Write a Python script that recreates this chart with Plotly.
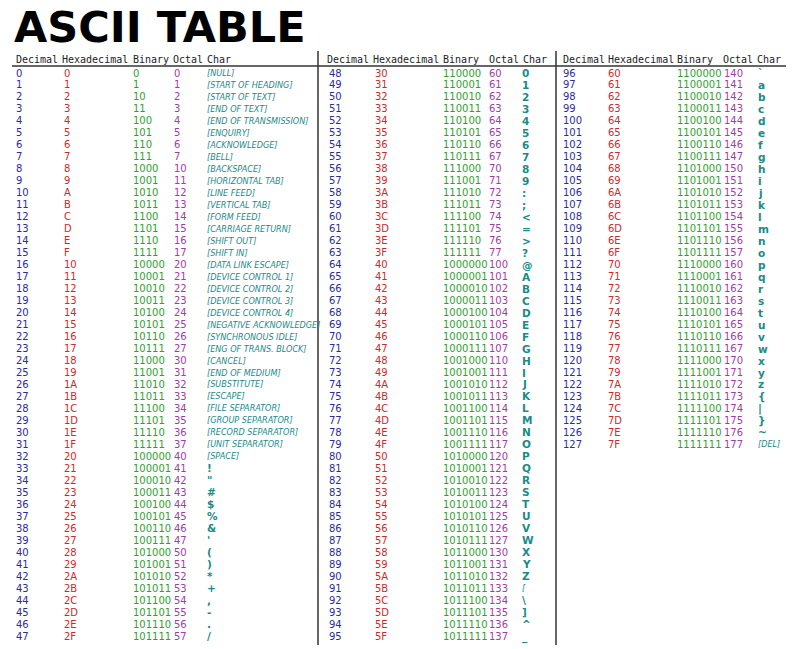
import plotly.graph_objects as go

decimals = list(range(128))
control_names = ["[NULL]", "[START OF HEADING]", "[START OF TEXT]", "[END OF TEXT]",
    "[END OF TRANSMISSION]", "[ENQUIRY]", "[ACKNOWLEDGE]", "[BELL]", "[BACKSPACE]",
    "[HORIZONTAL TAB]", "[LINE FEED]", "[VERTICAL TAB]", "[FORM FEED]", "[CARRIAGE RETURN]",
    "[SHIFT OUT]", "[SHIFT IN]", "[DATA LINK ESCAPE]", "[DEVICE CONTROL 1]",
    "[DEVICE CONTROL 2]", "[DEVICE CONTROL 3]", "[DEVICE CONTROL 4]",
    "[NEGATIVE ACKNOWLEDGE]", "[SYNCHRONOUS IDLE]", "[ENG OF TRANS. BLOCK]", "[CANCEL]",
    "[END OF MEDIUM]", "[SUBSTITUTE]", "[ESCAPE]", "[FILE SEPARATOR]", "[GROUP SEPARATOR]",
    "[RECORD SEPARATOR]", "[UNIT SEPARATOR]", "[SPACE]"]
printable = "!\"#$%&'()*+,-./0123456789:;<=>?@ABCDEFGHIJKLMNOPQRSTUVWXYZ[\\]^_`abcdefghijklmnopqrstuvwxyz{|}~"
chars = control_names + list(printable) + ["[DEL]"]
headers = ["Decimal", "Hexadecimal", "Binary", "Octal", "Char"]

colors = ["#2b2b9b", "#cc2a2a", "#2f9e2f", "#a23ba2", "#1a8a8a"]
block_x = [[14, 62, 131, 172, 205], [327, 373, 441, 487, 520], [561, 606, 675, 722, 756]]
head_x = [[14, 60, 131, 171, 205], [325, 371, 441, 487, 521], [561, 606, 675, 721, 755]]
row0_y, row_h = 73, 11.98

ann = []
ann.append(dict(x=12, y=27, text="<b>ASCII TABLE</b>", showarrow=False, xanchor="left",
                yanchor="middle", font=dict(family="DejaVu Sans", size=43, color="black")))
for b in range(3):
    for h, hx in zip(headers, head_x[b]):
        ann.append(dict(x=hx, y=59, text=h, showarrow=False, xanchor="left", yanchor="middle",
                        font=dict(family="DejaVu Sans Mono", size=10, color="#222")))
for d in decimals:
    b, r = d // 48, d % 48
    y = row0_y + r * row_h
    c = chars[d]
    if c.startswith("["):
        ctext = "<i>" + c + "</i>"
        cfont = dict(family="DejaVu Sans Condensed", size=9, color=colors[4])
    else:
        ctext = "<b>" + c.replace("&", "&amp;").replace("<", "&lt;").replace(">", "&gt;") + "</b>"
        cfont = dict(family="DejaVu Sans", size=10.5, color=colors[4])
    vals = [str(d), format(d, "X"), format(d, "b"), format(d, "o")]
    for i, v in enumerate(vals):
        ann.append(dict(x=block_x[b][i], y=y, text=v, showarrow=False, xanchor="left",
                        yanchor="middle", font=dict(family="DejaVu Sans", size=10, color=colors[i])))
    ann.append(dict(x=block_x[b][4], y=y, text=ctext, showarrow=False, xanchor="left",
                    yanchor="middle", font=cfont))

shapes = [
    dict(type="line", x0=12, x1=786, y0=66, y1=66, line=dict(color="#333", width=1.5)),
    dict(type="line", x0=318, x1=318, y0=51, y1=645, line=dict(color="#333", width=1.5)),
    dict(type="line", x0=556, x1=556, y0=51, y1=645, line=dict(color="#333", width=1.5)),
]

fig = go.Figure()
fig.update_layout(width=800, height=649, margin=dict(l=0, r=0, t=0, b=0),
                  paper_bgcolor="white", plot_bgcolor="white",
                  xaxis=dict(range=[8, 808], visible=False, fixedrange=True),
                  yaxis=dict(range=[657, 8], visible=False, fixedrange=True),
                  annotations=ann, shapes=shapes, showlegend=False)
fig.write_html("out.html", config={"displayModeBar": False})
